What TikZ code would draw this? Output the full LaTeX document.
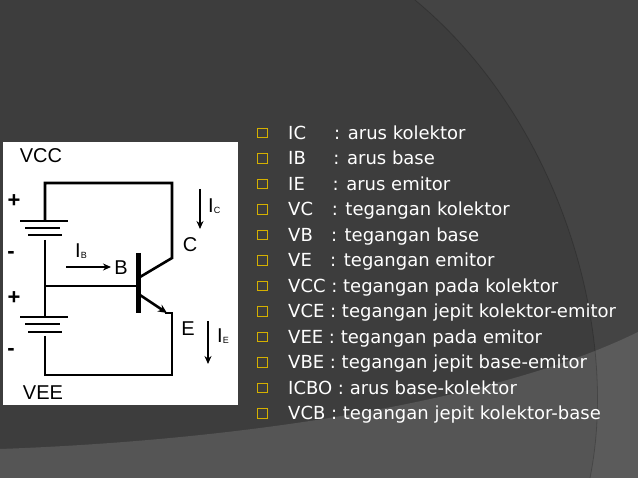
\documentclass[tikz,border=0pt]{standalone}
\usepackage{fontspec}
\setmainfont{DejaVu Sans}
\newfontfamily\arial{Liberation Sans}
\usetikzlibrary{arrows.meta}
\definecolor{bg}{HTML}{3D3D3D}
\definecolor{bgl}{HTML}{555555}
\definecolor{bul}{HTML}{D4B000}
\begin{document}
\begin{tikzpicture}[x=1pt,y=-1pt,
  wire/.style={line width=2.6pt,black},
  lab/.style={font=\arial\fontsize{20}{20}\selectfont,inner sep=0pt},
  pm/.style={font=\arial\bfseries\fontsize{22}{22}\selectfont,inner sep=0pt},
  item/.style={font=\fontsize{18}{18}\selectfont,text=white,anchor=base west,inner sep=0pt},
  box/.style={draw=bul,line width=1.4pt,minimum size=9.5pt,inner sep=0pt},
  cur/.style={line width=1.8pt,-{Stealth[length=8pt,width=7pt]}}]
\useasboundingbox (0,0) rectangle (638,478);
\fill[bg] (0,0) rectangle (638,478);
\fill[bgl] (0,449) .. controls (250,440) and (500,400) .. (638,332) -- (638,478) -- (0,478) -- cycle;
\fill[white,opacity=0.04] (415,0) .. controls (560,120) and (620,330) .. (590,478) -- (638,478) -- (638,0) -- cycle;
\draw[black,opacity=0.2,line width=0.8pt] (415,0) .. controls (560,120) and (620,330) .. (590,478);
% circuit box
\fill[white] (3,142) rectangle (238,405);
\draw[wire] (45,221) -- (45,183) -- (172,183) -- (172,258) -- (140,277);
\draw[line width=5pt] (138,253) -- (138,313);
\draw[wire] (45,240) -- (45,317);
\draw[wire] (45,286) -- (136,286);
\draw[wire] (45,336) -- (45,375) -- (172,375) -- (172,313) -- (165,313);
\draw[wire,-{Stealth[length=9pt,width=8pt]}] (140,295) -- (167,313);
% batteries
\draw[wire] (20,221) -- (68,221) (25,228) -- (60,228) (28,235) -- (62,235);
\draw[wire] (20,317) -- (68,317) (25,324) -- (60,324) (28,332) -- (62,332);
\node[lab] (vcc) at (41,156) {VCC};
\node[lab] (vee) at (43,393) {VEE};
\node[pm] (p1) at (14,201) {+};
\node[pm] (m1) at (11,255) {-};
\node[pm] (p2) at (14,298) {+};
\node[pm] (m2) at (11,352) {-};
\node[lab] (B) at (121,268) {B};
\node[lab] (C) at (190,245) {C};
\node[lab] (E) at (188,329) {E};
\node[lab,anchor=west] (ib) at (75,251) {I\raisebox{-0.5pt}{\fontsize{9}{9}\selectfont B}};
\node[lab,anchor=west] (ic) at (208,206) {I\raisebox{-0.5pt}{\fontsize{9}{9}\selectfont C}};
\node[lab,anchor=west] (ie) at (217,336) {I\raisebox{-0.5pt}{\fontsize{9}{9}\selectfont E}};
\coordinate (ib1) at (66,267); \coordinate (ib2) at (111,267);
\coordinate (ic1) at (200,189); \coordinate (ic2) at (200,229);
\coordinate (ie1) at (208,321); \coordinate (ie2) at (208,364);
\draw[cur] (ib1) -- (ib2);
\draw[cur] (ic1) -- (ic2);
\draw[cur] (ie1) -- (ie2);
% list
\foreach \i/\a/\b in {0/IC/: arus kolektor,1/IB/: arus base,2/IE/: arus emitor,3/VC/: tegangan kolektor,4/VB/: tegangan base,5/VE/: tegangan emitor}{
  \node[box] (b\i) at (262.5,{133+25.5*\i}) {};
  \node[item] (n\i) at (288,{139.5+25.5*\i}) {\a};
  \node[item] (t\i) at ({334-0.8*\i},{139.5+25.5*\i}) {\b};
}
\foreach \i/\a in {6/VCC : tegangan pada kolektor,7/VCE : tegangan jepit kolektor-emitor,8/VEE : tegangan pada emitor,9/VBE : tegangan jepit base-emitor,10/ICBO : arus base-kolektor,11/VCB : tegangan jepit kolektor-base}{
  \node[box] (b\i) at (262.5,{133+25.5*\i}) {};
  \node[item] (n\i) at (288,{139.5+25.5*\i}) {\a};
}
\end{tikzpicture}
\end{document}
